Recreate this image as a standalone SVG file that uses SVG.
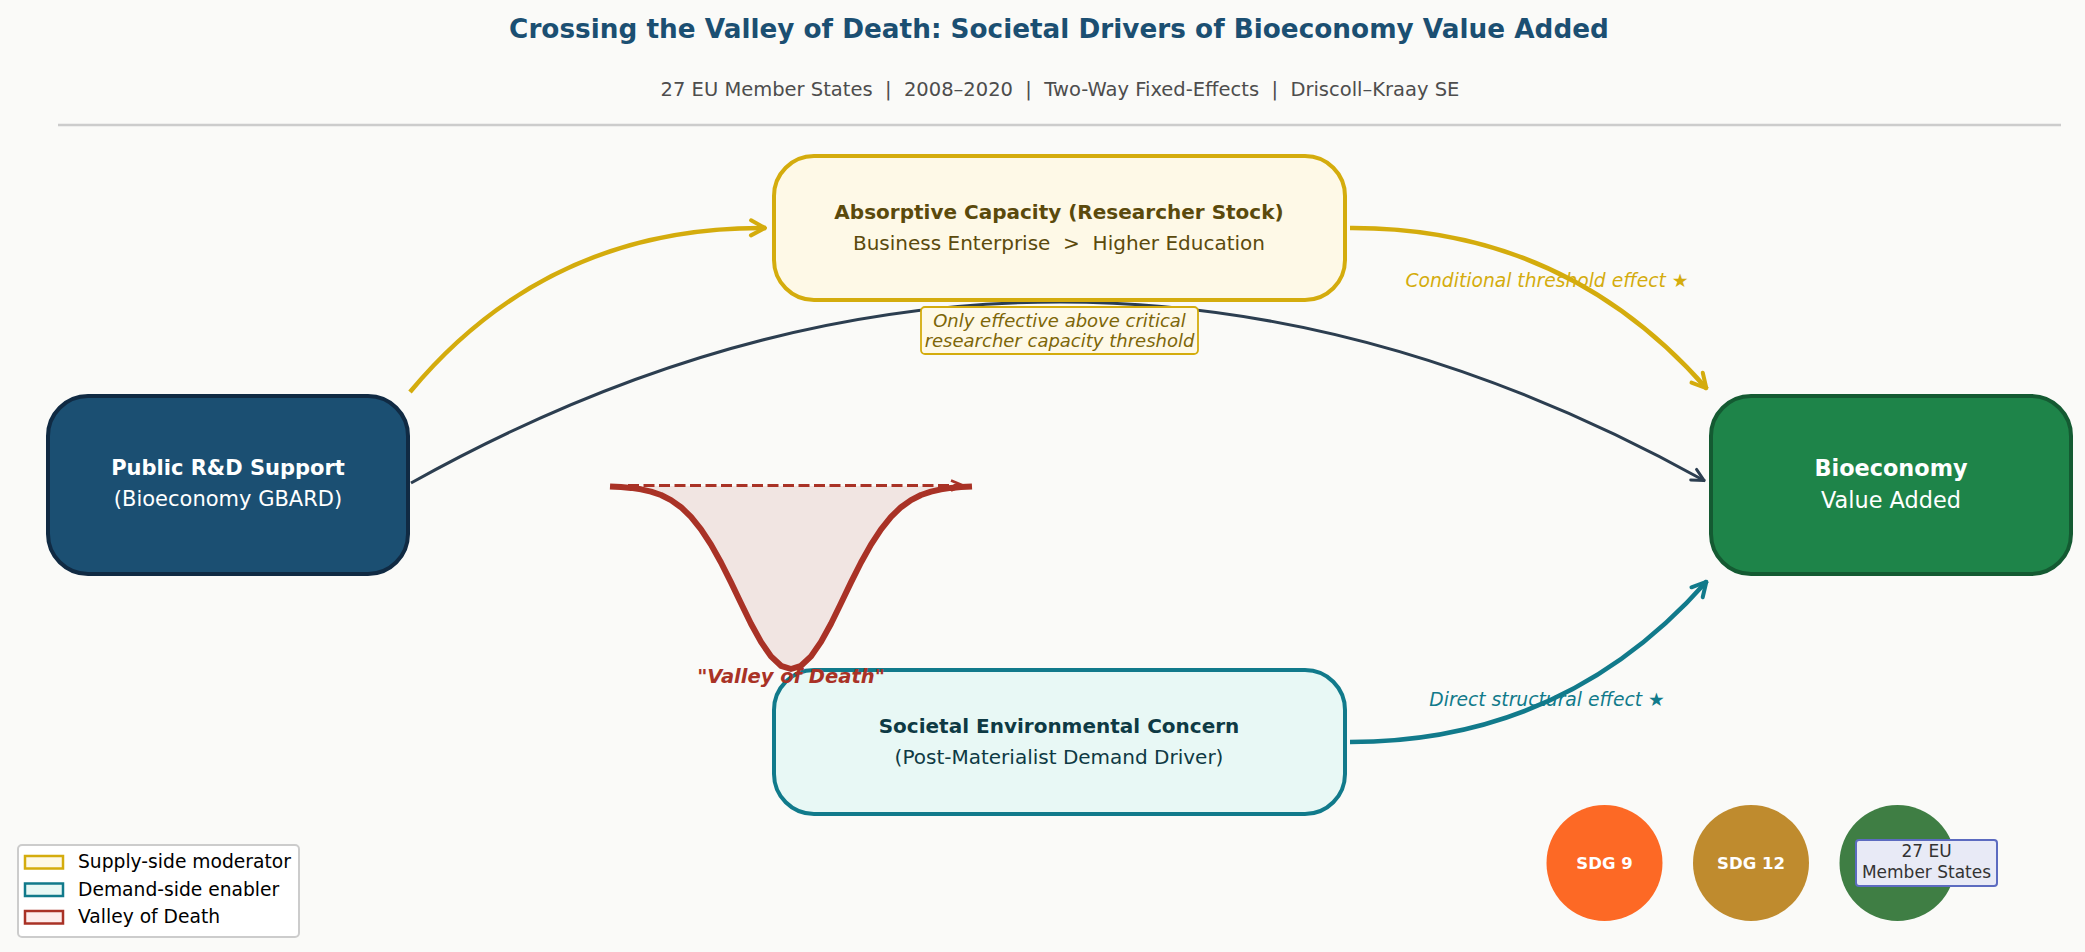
<svg xmlns="http://www.w3.org/2000/svg" width="2085" height="952" viewBox="0 0 2085 952">
  <style>
    text { font-family: "DejaVu Sans", "Liberation Sans", sans-serif; }
    .title { font-size: 26.3px; font-weight: bold; fill: #1B4F72; }
    .subtitle { font-size: 19.5px; fill: #4d4d4d; }
    .nb { font-size: 21px; font-weight: bold; fill: #ffffff; }
    .nr { font-size: 21px; fill: #ffffff; }
    .cb { font-size: 20px; font-weight: bold; }
    .cr { font-size: 20px; }
    .elabel { font-size: 18.7px; font-style: italic; }
    .legend { font-size: 18.7px; fill: #000000; }
    .sdg { font-size: 16.5px; font-weight: bold; fill: #ffffff; }
    .eu { font-size: 17px; fill: #333333; }
  </style>
  <defs>
    <marker id="ah-yellow" markerUnits="userSpaceOnUse" orient="auto" markerWidth="40" markerHeight="40" viewBox="-20 -20 40 40" refX="0" refY="0" overflow="visible">
      <path d="M-15,-7.5 L-1,0 L-15,7.5" fill="none" stroke="#D4AC0D" stroke-width="4" stroke-linejoin="round" stroke-linecap="round" stroke-dasharray="none"/>
    </marker>
    <marker id="ah-teal" markerUnits="userSpaceOnUse" orient="auto" markerWidth="40" markerHeight="40" viewBox="-20 -20 40 40" refX="0" refY="0" overflow="visible">
      <path d="M-15,-7.5 L-1,0 L-15,7.5" fill="none" stroke="#117A8B" stroke-width="4" stroke-linejoin="round" stroke-linecap="round" stroke-dasharray="none"/>
    </marker>
    <marker id="ah-navy" markerUnits="userSpaceOnUse" orient="auto" markerWidth="40" markerHeight="40" viewBox="-20 -20 40 40" refX="0" refY="0" overflow="visible">
      <path d="M-13,-6 L-1,0 L-13,6" fill="none" stroke="#2C3E50" stroke-width="3" stroke-linejoin="round" stroke-linecap="round" stroke-dasharray="none"/>
    </marker>
    <marker id="ah-red" markerUnits="userSpaceOnUse" orient="auto" markerWidth="40" markerHeight="40" viewBox="-20 -20 40 40" refX="0" refY="0" overflow="visible">
      <path d="M-12,-5 L0,0 L-12,5" fill="none" stroke="#A93226" stroke-width="2.5" stroke-linejoin="round" stroke-dasharray="none"/>
    </marker>
  </defs>

  <rect x="0" y="0" width="2085" height="952" fill="#FAFAF8"/>

  <g id="header">
    <text class="title" x="1059" y="38" text-anchor="middle">Crossing the Valley of Death: Societal Drivers of Bioeconomy Value Added</text>
    <text class="subtitle" x="1060" y="96" text-anchor="middle" xml:space="preserve">27 EU Member States  |  2008–2020  |  Two-Way Fixed-Effects  |  Driscoll–Kraay SE</text>
    <line x1="58" y1="125" x2="2061" y2="125" stroke="#cccccc" stroke-width="2.5"/>
  </g>

  <g id="edge-labels">
    <text class="elabel" x="1547" y="287" text-anchor="middle" fill="#D4AC0D">Conditional threshold effect ★</text>
    <text class="elabel" x="1547" y="706" text-anchor="middle" fill="#117A8B">Direct structural effect ★</text>
  </g>

  <g id="connectors" fill="none">
    <path d="M411,483 Q1058,122 1705,481" stroke="#2C3E50" stroke-width="3" marker-end="url(#ah-navy)"/>
    <path d="M410,392 Q548,226 766,228" stroke="#D4AC0D" stroke-width="4.5" marker-end="url(#ah-yellow)"/>
    <path d="M1350,228 Q1565,227 1707,389" stroke="#D4AC0D" stroke-width="4.5" marker-end="url(#ah-yellow)"/>
    <path d="M1350,742 Q1565,742 1707,581" stroke="#117A8B" stroke-width="4.5" marker-end="url(#ah-teal)"/>
  </g>

  <g id="node-public-rd">
    <rect x="48" y="396" width="360" height="178" rx="40" ry="40" fill="#1B4F72" stroke="#102A43" stroke-width="4"/>
    <text class="nb" x="228" y="475" text-anchor="middle">Public R&amp;D Support</text>
    <text class="nr" x="228" y="506" text-anchor="middle">(Bioeconomy GBARD)</text>
  </g>

  <g id="node-bioeconomy">
    <rect x="1711" y="396" width="360" height="178" rx="40" ry="40" fill="#1E8449" stroke="#145A32" stroke-width="4"/>
    <text class="nb" x="1891" y="476" text-anchor="middle" style="font-size:22.4px">Bioeconomy</text>
    <text class="nr" x="1891" y="508" text-anchor="middle" style="font-size:22.4px">Value Added</text>
  </g>

  <g id="node-absorptive">
    <rect x="774" y="156" width="571" height="144" rx="40" ry="40" fill="#FEF9E7" stroke="#D4AC0D" stroke-width="4"/>
    <text class="cb" x="1059" y="219" text-anchor="middle" fill="#5B4A0C">Absorptive Capacity (Researcher Stock)</text>
    <text class="cr" x="1059" y="250" text-anchor="middle" fill="#5B4A0C" xml:space="preserve">Business Enterprise  &gt;  Higher Education</text>
  </g>

  <g id="label-threshold">
    <rect x="921" y="307" width="277" height="47" rx="4" ry="4" fill="#FEF9E7" stroke="#D4AC0D" stroke-width="1.8"/>
    <text class="elabel" x="1059.5" y="327" text-anchor="middle" fill="#7D6608" style="font-size:18px">Only effective above critical</text>
    <text class="elabel" x="1059.5" y="347" text-anchor="middle" fill="#7D6608" style="font-size:18px">researcher capacity threshold</text>
  </g>

  <g id="node-societal">
    <rect x="774" y="670" width="571" height="144" rx="40" ry="40" fill="#E8F8F5" stroke="#117A8B" stroke-width="4"/>
    <text class="cb" x="1059" y="733" text-anchor="middle" fill="#0E3A44">Societal Environmental Concern</text>
    <text class="cr" x="1059" y="764" text-anchor="middle" fill="#0E3A44">(Post-Materialist Demand Driver)</text>
  </g>

  <g id="valley">
    <path d="M610,486 L610,486.5 L621,487.1 L631,487.9 L641,489.3 L651,491.6 L661,495 L671,500.1 L681,507.2 L691,516.9 L701,529.3 L711,544.6 L721,562.5 L731,582.4 L741,603.3 L751,623.7 L761,641.9 L771,656.4 L781,665.8 L791,669 L801,665.8 L811,656.4 L821,641.9 L831,623.7 L841,603.3 L851,582.4 L861,562.5 L871,544.6 L881,529.3 L891,516.9 L901,507.2 L911,500.1 L921,495 L931,491.6 L941,489.3 L951,487.9 L961,487.1 L972,486.5 L972,486 Z" fill="#A93226" fill-opacity="0.1" stroke="none"/>
    <path d="M610,486.5 L621,487.1 L631,487.9 L641,489.3 L651,491.6 L661,495 L671,500.1 L681,507.2 L691,516.9 L701,529.3 L711,544.6 L721,562.5 L731,582.4 L741,603.3 L751,623.7 L761,641.9 L771,656.4 L781,665.8 L791,669 L801,665.8 L811,656.4 L821,641.9 L831,623.7 L841,603.3 L851,582.4 L861,562.5 L871,544.6 L881,529.3 L891,516.9 L901,507.2 L911,500.1 L921,495 L931,491.6 L941,489.3 L951,487.9 L961,487.1 L972,486.5" fill="none" stroke="#A93226" stroke-width="6" stroke-linejoin="round"/>
    <path d="M628,485.5 L963,485.5" fill="none" stroke="#A93226" stroke-width="3" stroke-dasharray="11 4.5" marker-end="url(#ah-red)"/>
    <text x="791" y="683" text-anchor="middle" fill="#A93226" style="font-size:19.5px;font-weight:bold;font-style:italic">"Valley of Death"</text>
  </g>

  <g id="legend">
    <rect x="18" y="845" width="281" height="92" rx="4" ry="4" fill="#ffffff" stroke="#cccccc" stroke-width="2"/>
    <rect x="25" y="856" width="38" height="12.5" fill="#FEF9E7" stroke="#D4AC0D" stroke-width="2.5"/>
    <text class="legend" x="78" y="868">Supply-side moderator</text>
    <rect x="25" y="883.5" width="38" height="12.5" fill="#E8F8F5" stroke="#117A8B" stroke-width="2.5"/>
    <text class="legend" x="78" y="895.5">Demand-side enabler</text>
    <rect x="25" y="911" width="38" height="12.5" fill="#FDEDEC" stroke="#A93226" stroke-width="2.5"/>
    <text class="legend" x="78" y="923">Valley of Death</text>
  </g>

  <g id="sdg-badges">
    <circle cx="1604.5" cy="863" r="58" fill="#FD6925"/>
    <text class="sdg" x="1604.5" y="868.5" text-anchor="middle">SDG 9</text>
    <circle cx="1751" cy="863" r="58" fill="#BF8B2E"/>
    <text class="sdg" x="1751" y="868.5" text-anchor="middle">SDG 12</text>
    <circle cx="1897.5" cy="863" r="58" fill="#3F7E44"/>
    <rect x="1856" y="840" width="141" height="46" rx="3" ry="3" fill="#E8EAF6" stroke="#5C6BC0" stroke-width="2"/>
    <text class="eu" x="1926.5" y="857" text-anchor="middle">27 EU</text>
    <text class="eu" x="1926.5" y="878" text-anchor="middle">Member States</text>
  </g>
</svg>
